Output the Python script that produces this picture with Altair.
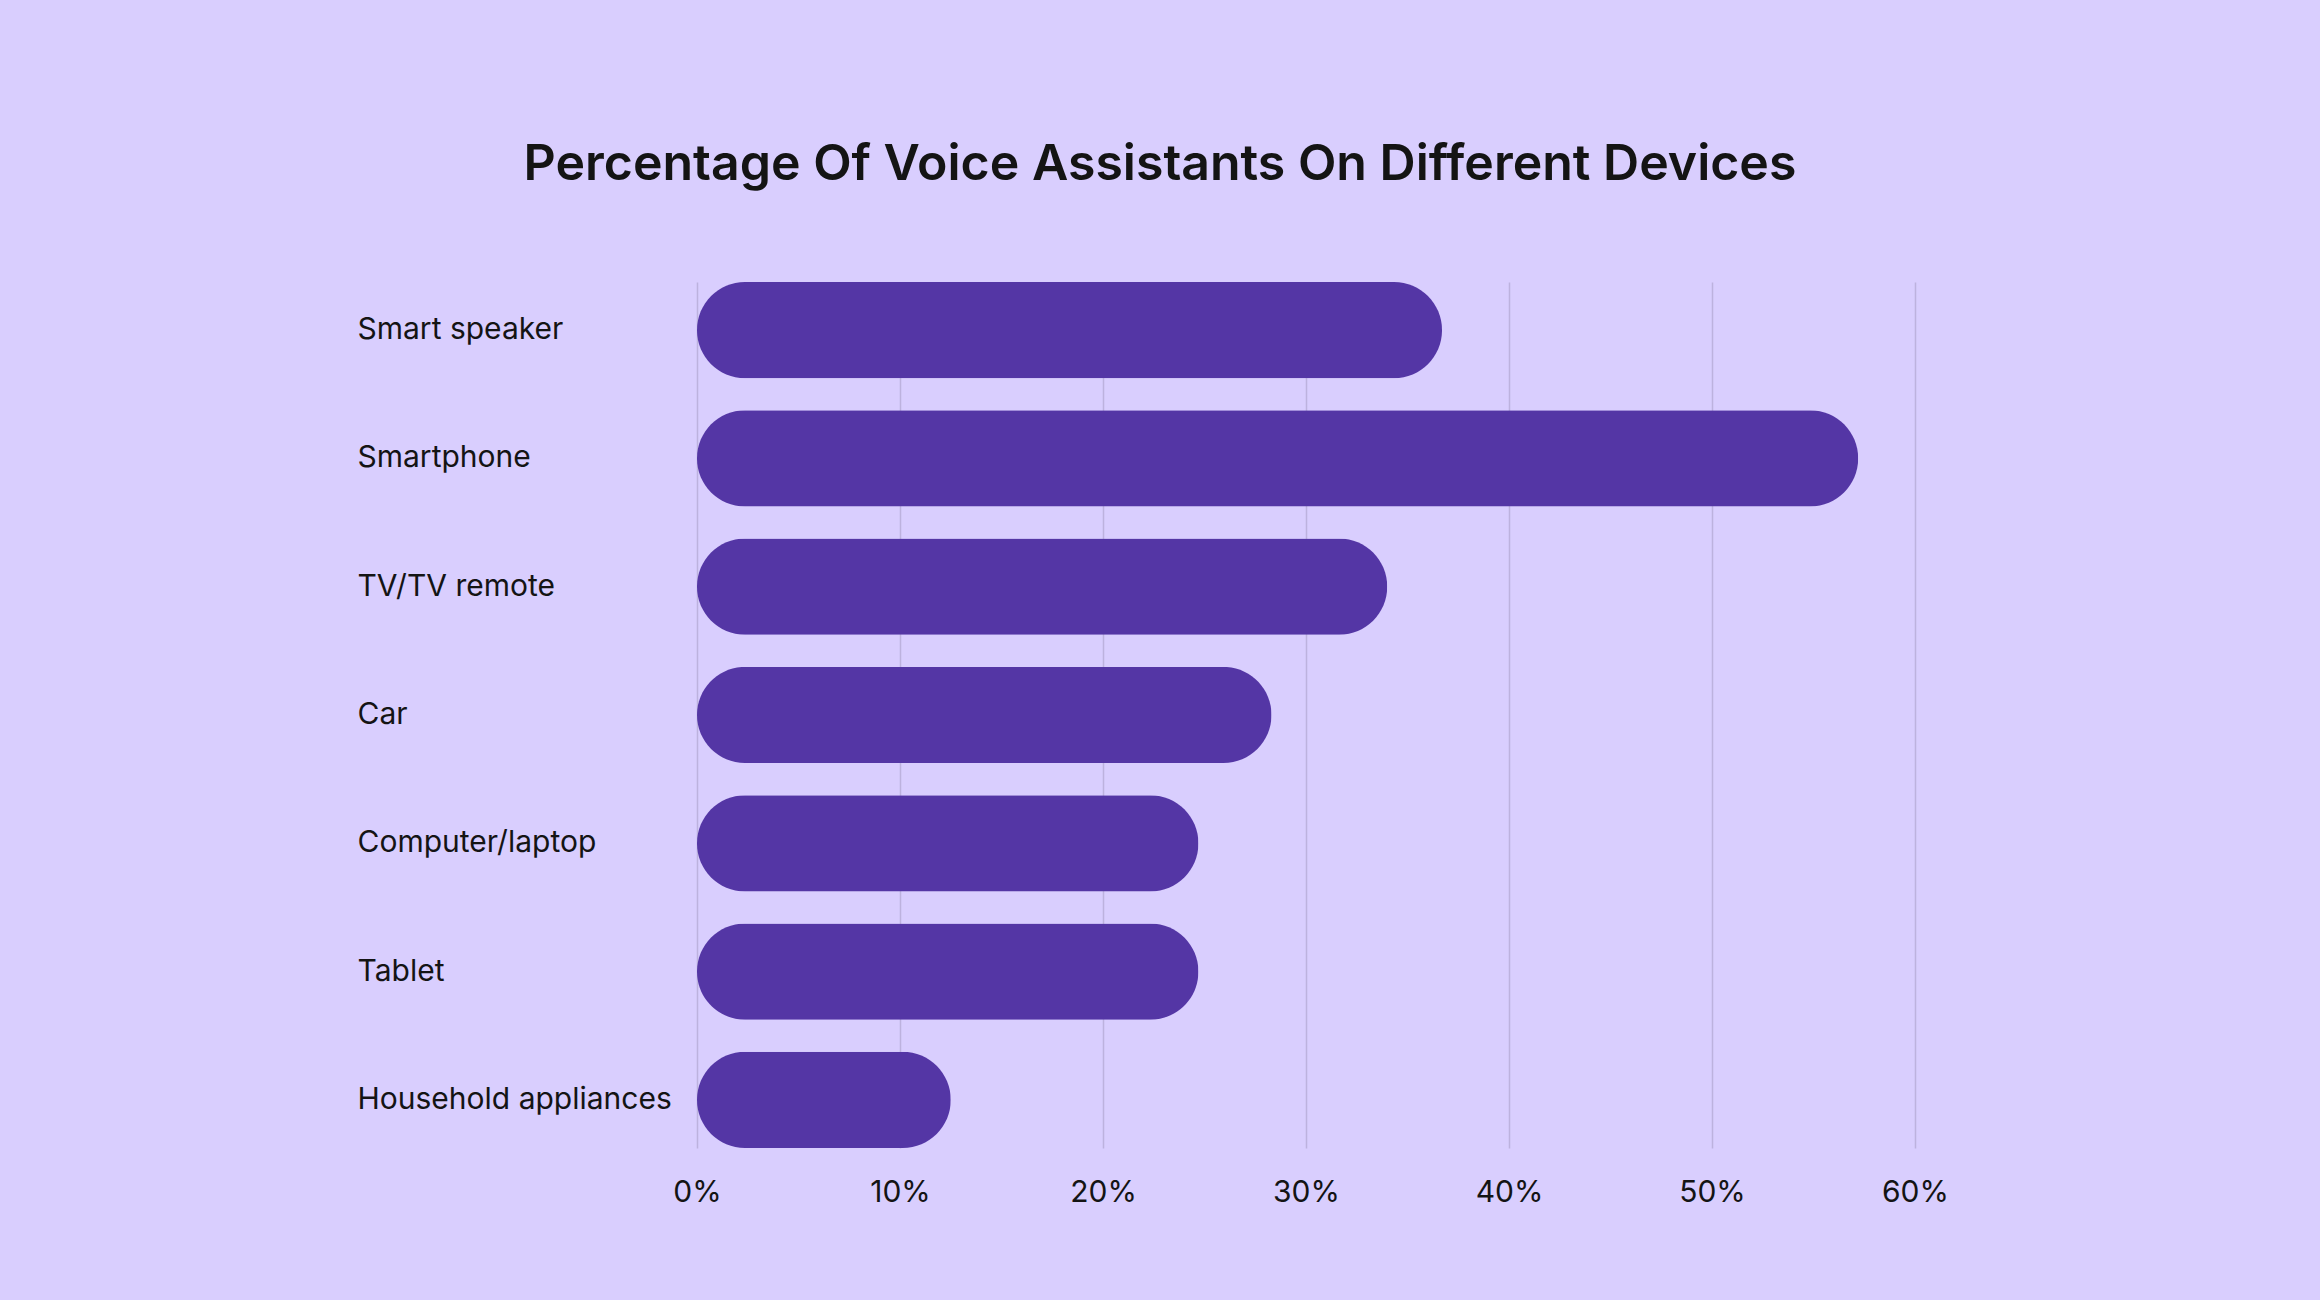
import altair as alt
import pandas as pd

# Share of voice-assistant usage by device (percent)
devices = [
    "Smart speaker",
    "Smartphone",
    "TV/TV remote",
    "Car",
    "Computer/laptop",
    "Tablet",
    "Household appliances",
]
shares = [36.7, 57.2, 34.0, 28.3, 24.7, 24.7, 12.5]

df = pd.DataFrame({"device": devices, "share": shares})

BG = "#D9CEFE"
BAR = "#5436A5"
GRID = "#BDB2DE"
INK = "#141414"

bars = alt.Chart(df).mark_bar(color=BAR, cornerRadius=48).encode(
    y=alt.Y(
        "device:N",
        sort=devices,
        title=None,
        scale=alt.Scale(paddingInner=0.25, paddingOuter=0.0),
        axis=alt.Axis(
            domain=False,
            ticks=False,
            tickSize=0,
            grid=False,
            labelAlign="left",
            labelPadding=340,
            labelFont="Inter",
            labelFontSize=30,
            labelColor=INK,
            labelLimit=400,
        ),
    ),
    x=alt.X(
        "share:Q",
        title=None,
        scale=alt.Scale(domain=[0, 60], nice=False),
        axis=alt.Axis(
            values=[0, 10, 20, 30, 40, 50, 60],
            labelExpr="datum.value + '%'",
            labelFlush=False,
            domain=False,
            ticks=False,
            tickSize=0,
            grid=True,
            gridColor=GRID,
            gridWidth=1.5,
            labelPadding=29,
            labelFont="Inter",
            labelFontSize=30,
            labelColor=INK,
            labelBaseline="top",
        ),
    ),
)

chart = (
    bars.properties(
        width=1218,
        height=866,
        background=BG,
        padding={"left": 697, "top": 282, "right": 405, "bottom": 152},
        autosize=alt.AutoSizeParams(type="none"),
        title=alt.TitleParams(
            "Percentage Of Voice Assistants On Different Devices",
            font="Inter",
            fontSize=50,
            fontWeight=600,
            color=INK,
            anchor="middle",
            frame="group",
            dx=-146,
            baseline="alphabetic",
            offset=52,
        ),
    )
    .configure_view(stroke=None)
)

chart.save("out.html", embed_options={"renderer": "svg", "actions": False})
